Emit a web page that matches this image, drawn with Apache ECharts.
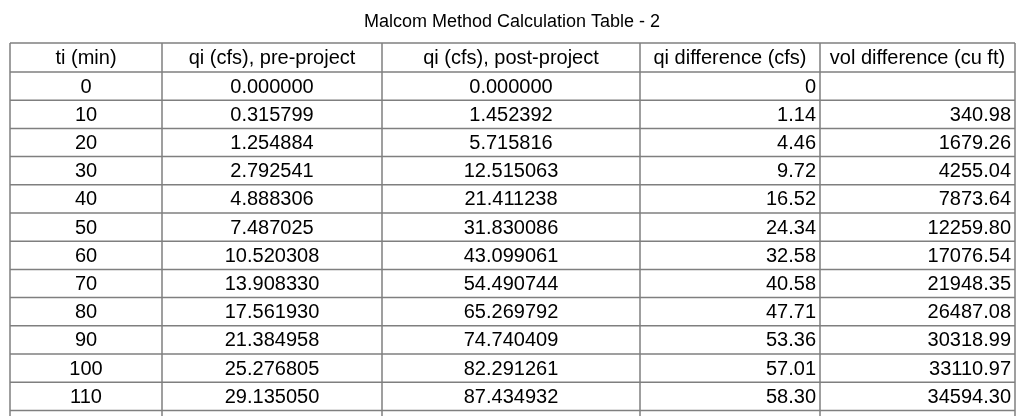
<!DOCTYPE html>
<html>
<head>
<meta charset="utf-8">
<script src="https://cdn.jsdelivr.net/npm/echarts@6/dist/echarts.min.js"></script>
<style>
  html, body { margin: 0; padding: 0; background: #fff; }
  #chartBox { width: 1024px; height: 416px; }
</style>
</head>
<body>
<div id="chartBox"></div>
<script>
const headers = ['ti (min)', 'qi (cfs), pre-project', 'qi (cfs), post-project', 'qi difference (cfs)', 'vol difference (cu ft)'];
const tiMin = ['0', '10', '20', '30', '40', '50', '60', '70', '80', '90', '100', '110'];
const qiPre = ['0.000000', '0.315799', '1.254884', '2.792541', '4.888306', '7.487025', '10.520308', '13.908330', '17.561930', '21.384958', '25.276805', '29.135050'];
const qiPost = ['0.000000', '1.452392', '5.715816', '12.515063', '21.411238', '31.830086', '43.099061', '54.490744', '65.269792', '74.740409', '82.291261', '87.434932'];
const qiDiff = ['0', '1.14', '4.46', '9.72', '16.52', '24.34', '32.58', '40.58', '47.71', '53.36', '57.01', '58.30'];
const volDiff = ['', '340.98', '1679.26', '4255.04', '7873.64', '12259.80', '17076.54', '21948.35', '26487.08', '30318.99', '33110.97', '34594.30'];

const colX = [10, 162, 382, 640, 820, 1015];
const colAlign = ['center', 'center', 'center', 'right', 'right'];
const tableTop = 43, headH = 29, rowH = 28.2;
const cellFont = '20px "Liberation Sans", Arial, sans-serif';
const ruleStyle = { stroke: '#7f7f7f', lineWidth: 1.5 };

const columns = [tiMin, qiPre, qiPost, qiDiff, volDiff];
const nRows = tiMin.length;
const elements = [];

function cellText(text, c, yMid, align) {
  const x = align === 'center' ? (colX[c] + colX[c + 1]) / 2 : colX[c + 1] - 4;
  elements.push({
    type: 'text', x: x, y: yMid,
    style: { text: text, font: cellFont, fill: '#000', align: align, verticalAlign: 'middle' }
  });
}

headers.forEach((h, c) => cellText(h, c, tableTop + headH / 2 + 1, 'center'));
for (let r = 0; r < nRows; r++) {
  const yMid = tableTop + headH + rowH * r + rowH / 2 + 1;
  columns.forEach((col, c) => cellText(col[r], c, yMid, colAlign[c]));
}

// horizontal rules
const tableBottom = 416;
elements.push({ type: 'line', shape: { x1: colX[0], y1: tableTop, x2: colX[5], y2: tableTop }, style: ruleStyle });
for (let r = 0; r <= nRows; r++) {
  const y = tableTop + headH + rowH * r;
  elements.push({ type: 'line', shape: { x1: colX[0], y1: y, x2: colX[5], y2: y }, style: ruleStyle });
}
// vertical rules
colX.forEach(x => {
  elements.push({ type: 'line', shape: { x1: x, y1: tableTop, x2: x, y2: tableBottom }, style: ruleStyle });
});

const chart = echarts.init(document.getElementById('chartBox'));
chart.setOption({
  animation: false,
  title: {
    text: 'Malcom Method Calculation Table - 2',
    left: 'center', top: 8,
    textStyle: { fontFamily: '"Liberation Sans", Arial, sans-serif', fontSize: 18, fontWeight: 'normal', color: '#000' }
  },
  graphic: elements
});
</script>
</body>
</html>
